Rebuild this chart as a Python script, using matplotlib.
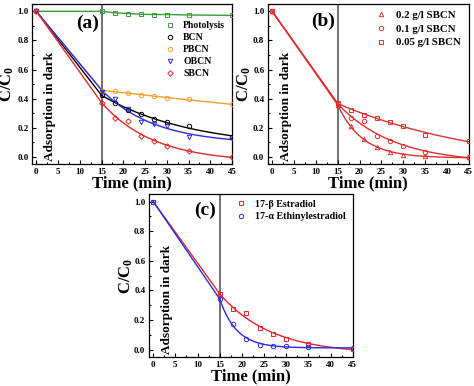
import matplotlib
matplotlib.use("Agg")
import matplotlib.pyplot as plt
import numpy as np
from matplotlib.ticker import MultipleLocator

plt.rcParams["font.family"] = ["Liberation Serif", "DejaVu Serif"]
plt.rcParams["font.weight"] = "bold"
plt.rcParams["mathtext.fontset"] = "custom"
plt.rcParams["mathtext.rm"] = "Liberation Serif:bold"
plt.rcParams["mathtext.it"] = "Liberation Serif:bold"
plt.rcParams["mathtext.bf"] = "Liberation Serif:bold"

# sampling times (min)
times = [0, 15, 18, 21, 24, 27, 30, 35, 45]

# panel (a): catalysts
photolysis = [1.0, 1.0, 0.99, 0.985, 0.98, 0.978, 0.978, 0.975, 0.972]
bcn = [1.0, 0.428, 0.373, 0.32, 0.295, 0.26, 0.238, 0.21, 0.137]
pbcn = [1.0, 0.455, 0.45, 0.44, 0.425, 0.415, 0.405, 0.395, 0.36]
obcn = [1.0, 0.445, 0.40, 0.33, 0.238, 0.225, 0.21, 0.137, 0.13]
sbcn = [1.0, 0.37, 0.27, 0.245, 0.142, 0.11, 0.073, 0.039, 0.0]

# panel (b): catalyst dose
dose_02 = [1.0, 0.355, 0.21, 0.12, 0.068, 0.034, 0.011, 0.002, 0.0]
dose_01 = [1.0, 0.36, 0.27, 0.248, 0.142, 0.108, 0.075, 0.036, 0.0]
dose_005 = [1.0, 0.37, 0.32, 0.29, 0.27, 0.24, 0.215, 0.15, 0.108]

# panel (c): hormones
estradiol = [1.0, 0.375, 0.275, 0.245, 0.143, 0.109, 0.075, 0.041, 0.005]
ethinyl = [1.0, 0.34, 0.17, 0.075, 0.034, 0.027, 0.023, 0.016, 0.011]

GREEN = "#3c9a3c"
ORANGE = "#f5a030"
BLUE = "#2a2ae0"
RED = "#e02828"
DOSE_RED = "#e03030"


def exp_fit(t, y):
    # first-order decay with offset, fitted to the light-phase points
    t = np.asarray(t, dtype=float)
    y = np.asarray(y, dtype=float)
    best = None
    for k in np.linspace(0.001, 0.6, 600):
        e = np.exp(-k * (t - 15))
        A = np.vstack([e, np.ones_like(e)]).T
        coef, *_ = np.linalg.lstsq(A, y, rcond=None)
        err = np.sum((A @ coef - y) ** 2)
        if best is None or err < best[0]:
            best = (err, k, coef)
    _, k, (a, c) = best
    tt = np.linspace(15, 45, 200)
    return tt, a * np.exp(-k * (tt - 15)) + c


def draw_series(ax, y, color, marker, label, ms=3.2):
    ax.plot(times, y, linestyle="none", marker=marker, mfc="none", mec=color,
            ms=ms, mew=0.7, label=label, zorder=3)
    tt, yy = exp_fit(times[1:], y[1:])
    ax.plot([0, 15], [y[0], yy[0]], color=color, lw=1.0, zorder=2)
    ax.plot(tt, yy, color=color, lw=1.0, zorder=2)


def style_axes(ax, tag, tag_y, ylab_x):
    ax.set_xlim(-1, 45)
    ax.set_ylim(-0.05, 1.05)
    ax.xaxis.set_major_locator(MultipleLocator(5))
    ax.xaxis.set_minor_locator(MultipleLocator(2.5))
    ax.yaxis.set_minor_locator(MultipleLocator(0.1))
    ax.tick_params(which="both", direction="in", labelsize=6.5, width=0.8,
                   pad=2.5)
    ax.tick_params(which="major", length=3)
    ax.tick_params(which="minor", length=1.5)
    ax.set_yticks(np.arange(0, 1.01, 0.2))
    ax.set_yticklabels([f"{v:.1f}" for v in np.arange(0, 1.01, 0.2)])
    for s in ax.spines.values():
        s.set_linewidth(0.9)
    ax.axvline(15, color="#707070", lw=1.4, zorder=1)
    ax.text(3.1, -0.03, "Adsorption in dark", rotation=90, ha="center",
            va="bottom", fontsize=9.5, fontweight="bold")
    ax.text(11.7, tag_y, tag, ha="center", va="center", fontsize=14,
            fontweight="bold")
    ax.set_xlabel("Time (min)", fontsize=12, fontweight="bold", labelpad=0)
    ax.set_ylabel("C/C$_\\mathregular{0}$", fontsize=12, fontweight="bold")
    ax.yaxis.set_label_coords(ylab_x, 0.5)


fig = plt.figure(figsize=(4.74, 3.86), dpi=100)
ax_a = fig.add_axes([0.0675, 0.575, 0.422, 0.4145])
ax_b = fig.add_axes([0.565, 0.575, 0.424, 0.4145])
ax_c = fig.add_axes([0.314, 0.075, 0.430, 0.422])

# (a)
ax_a.plot(times, photolysis, linestyle="none", marker="s", mfc="none",
          mec=GREEN, ms=2.8, mew=0.7, label="Photolysis", zorder=3)
ax_a.plot(times, photolysis, color=GREEN, lw=1.0, zorder=2)
draw_series(ax_a, bcn, "black", "o", "BCN")
draw_series(ax_a, pbcn, ORANGE, "o", "PBCN")
draw_series(ax_a, obcn, BLUE, "v", "OBCN")
draw_series(ax_a, sbcn, RED, "D", "SBCN", ms=2.8)
style_axes(ax_a, "(a)", 0.92, -0.08)
ax_a.legend(loc="upper right", bbox_to_anchor=(1.0, 0.935), frameon=False,
            numpoints=1, fontsize=7, handlelength=1.2, handletextpad=0.8,
            labelspacing=0.3, borderpad=0.2)

# (b)
draw_series(ax_b, dose_02, DOSE_RED, "^", "0.2 g/l SBCN")
draw_series(ax_b, dose_01, DOSE_RED, "o", "0.1 g/l SBCN")
draw_series(ax_b, dose_005, DOSE_RED, "s", "0.05 g/l SBCN", ms=2.8)
style_axes(ax_b, "(b)", 0.93, -0.075)
ax_b.legend(loc="upper right", bbox_to_anchor=(1.0, 1.01), frameon=False,
            numpoints=1, fontsize=7.8, handlelength=1.2, handletextpad=0.8,
            labelspacing=0.4, borderpad=0.2)

# (c)
draw_series(ax_c, estradiol, RED, "s", "17-\u03b2 Estradiol", ms=2.8)
draw_series(ax_c, ethinyl, BLUE, "o", "17-\u03b1 Ethinylestradiol")
style_axes(ax_c, "(c)", 0.94, -0.069)
ax_c.legend(loc="upper right", bbox_to_anchor=(1.0, 1.01), frameon=False,
            numpoints=1, fontsize=7.2, handlelength=1.2, handletextpad=0.8,
            labelspacing=0.35, borderpad=0.2)

fig.savefig("out.png", dpi=100)
